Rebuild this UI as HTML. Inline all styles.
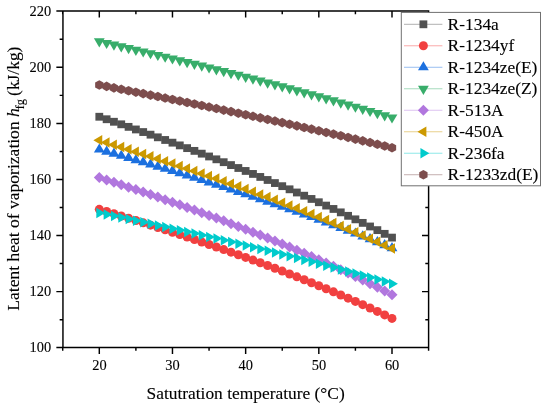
<!DOCTYPE html>
<html><head><meta charset="utf-8"><title>Latent heat of vaporization</title>
<style>
html,body{margin:0;padding:0;background:#fff;}
svg{display:block;font-family:"Liberation Serif","Times New Roman",serif;fill:#000;}
text{stroke:#000;stroke-width:0.12px;}
.tk{font-size:14.4px;}
.tt{font-size:17.4px;}
.ax{stroke:#000;stroke-width:1.45;fill:none;}
</style></head><body>
<svg width="550" height="409" viewBox="0 0 550 409">
<defs><filter id="soft" x="0" y="0" width="550" height="409" filterUnits="userSpaceOnUse"><feGaussianBlur stdDeviation="0.4"/></filter></defs>
<rect width="550" height="409" fill="#fff"/>
<g filter="url(#soft)">
<g fill="#515151">
<rect x="95.4" y="112.85" width="7.8" height="7.8"/>
<rect x="102.72" y="115.35" width="7.8" height="7.8"/>
<rect x="110.03" y="117.87" width="7.8" height="7.8"/>
<rect x="117.35" y="120.41" width="7.8" height="7.8"/>
<rect x="124.67" y="122.97" width="7.8" height="7.8"/>
<rect x="131.99" y="125.55" width="7.8" height="7.8"/>
<rect x="139.3" y="128.15" width="7.8" height="7.8"/>
<rect x="146.62" y="130.77" width="7.8" height="7.8"/>
<rect x="153.94" y="133.42" width="7.8" height="7.8"/>
<rect x="161.26" y="136.08" width="7.8" height="7.8"/>
<rect x="168.57" y="138.77" width="7.8" height="7.8"/>
<rect x="175.89" y="141.49" width="7.8" height="7.8"/>
<rect x="183.21" y="144.22" width="7.8" height="7.8"/>
<rect x="190.53" y="146.98" width="7.8" height="7.8"/>
<rect x="197.84" y="149.77" width="7.8" height="7.8"/>
<rect x="205.16" y="152.58" width="7.8" height="7.8"/>
<rect x="212.48" y="155.42" width="7.8" height="7.8"/>
<rect x="219.8" y="158.29" width="7.8" height="7.8"/>
<rect x="227.11" y="161.18" width="7.8" height="7.8"/>
<rect x="234.43" y="164.1" width="7.8" height="7.8"/>
<rect x="241.75" y="167.05" width="7.8" height="7.8"/>
<rect x="249.07" y="170.03" width="7.8" height="7.8"/>
<rect x="256.38" y="173.04" width="7.8" height="7.8"/>
<rect x="263.7" y="176.08" width="7.8" height="7.8"/>
<rect x="271.02" y="179.16" width="7.8" height="7.8"/>
<rect x="278.34" y="182.27" width="7.8" height="7.8"/>
<rect x="285.66" y="185.41" width="7.8" height="7.8"/>
<rect x="292.97" y="188.59" width="7.8" height="7.8"/>
<rect x="300.29" y="191.8" width="7.8" height="7.8"/>
<rect x="307.61" y="195.05" width="7.8" height="7.8"/>
<rect x="314.93" y="198.35" width="7.8" height="7.8"/>
<rect x="322.24" y="201.68" width="7.8" height="7.8"/>
<rect x="329.56" y="205.05" width="7.8" height="7.8"/>
<rect x="336.88" y="208.46" width="7.8" height="7.8"/>
<rect x="344.19" y="211.92" width="7.8" height="7.8"/>
<rect x="351.51" y="215.43" width="7.8" height="7.8"/>
<rect x="358.83" y="218.98" width="7.8" height="7.8"/>
<rect x="366.15" y="222.58" width="7.8" height="7.8"/>
<rect x="373.47" y="226.23" width="7.8" height="7.8"/>
<rect x="380.78" y="229.94" width="7.8" height="7.8"/>
<rect x="388.1" y="233.7" width="7.8" height="7.8"/>
</g>
<g fill="#F14040">
<circle cx="99.3" cy="209.35" r="4.5"/>
<circle cx="106.62" cy="211.55" r="4.5"/>
<circle cx="113.94" cy="213.76" r="4.5"/>
<circle cx="121.25" cy="215.99" r="4.5"/>
<circle cx="128.57" cy="218.24" r="4.5"/>
<circle cx="135.89" cy="220.52" r="4.5"/>
<circle cx="143.2" cy="222.81" r="4.5"/>
<circle cx="150.52" cy="225.13" r="4.5"/>
<circle cx="157.84" cy="227.46" r="4.5"/>
<circle cx="165.16" cy="229.82" r="4.5"/>
<circle cx="172.47" cy="232.2" r="4.5"/>
<circle cx="179.79" cy="234.61" r="4.5"/>
<circle cx="187.11" cy="237.03" r="4.5"/>
<circle cx="194.43" cy="239.49" r="4.5"/>
<circle cx="201.75" cy="241.96" r="4.5"/>
<circle cx="209.06" cy="244.47" r="4.5"/>
<circle cx="216.38" cy="247" r="4.5"/>
<circle cx="223.7" cy="249.56" r="4.5"/>
<circle cx="231.01" cy="252.14" r="4.5"/>
<circle cx="238.33" cy="254.76" r="4.5"/>
<circle cx="245.65" cy="257.4" r="4.5"/>
<circle cx="252.97" cy="260.08" r="4.5"/>
<circle cx="260.28" cy="262.78" r="4.5"/>
<circle cx="267.6" cy="265.52" r="4.5"/>
<circle cx="274.92" cy="268.29" r="4.5"/>
<circle cx="282.24" cy="271.1" r="4.5"/>
<circle cx="289.56" cy="273.95" r="4.5"/>
<circle cx="296.87" cy="276.83" r="4.5"/>
<circle cx="304.19" cy="279.75" r="4.5"/>
<circle cx="311.51" cy="282.71" r="4.5"/>
<circle cx="318.82" cy="285.71" r="4.5"/>
<circle cx="326.14" cy="288.75" r="4.5"/>
<circle cx="333.46" cy="291.84" r="4.5"/>
<circle cx="340.78" cy="294.98" r="4.5"/>
<circle cx="348.09" cy="298.16" r="4.5"/>
<circle cx="355.41" cy="301.4" r="4.5"/>
<circle cx="362.73" cy="304.68" r="4.5"/>
<circle cx="370.05" cy="308.02" r="4.5"/>
<circle cx="377.37" cy="311.42" r="4.5"/>
<circle cx="384.68" cy="314.88" r="4.5"/>
<circle cx="392" cy="318.4" r="4.5"/>
</g>
<g fill="#1A6FDF">
<polygon points="99.3,143.4 104.7,152.6 93.9,152.6"/>
<polygon points="106.62,145.47 112.02,154.67 101.22,154.67"/>
<polygon points="113.94,147.56 119.34,156.76 108.53,156.76"/>
<polygon points="121.25,149.67 126.65,158.87 115.85,158.87"/>
<polygon points="128.57,151.79 133.97,160.99 123.17,160.99"/>
<polygon points="135.89,153.93 141.29,163.13 130.49,163.13"/>
<polygon points="143.2,156.08 148.6,165.28 137.8,165.28"/>
<polygon points="150.52,158.25 155.92,167.45 145.12,167.45"/>
<polygon points="157.84,160.43 163.24,169.63 152.44,169.63"/>
<polygon points="165.16,162.63 170.56,171.83 159.76,171.83"/>
<polygon points="172.47,164.85 177.88,174.05 167.07,174.05"/>
<polygon points="179.79,167.09 185.19,176.29 174.39,176.29"/>
<polygon points="187.11,169.35 192.51,178.55 181.71,178.55"/>
<polygon points="194.43,171.62 199.83,180.82 189.03,180.82"/>
<polygon points="201.75,173.92 207.15,183.12 196.34,183.12"/>
<polygon points="209.06,176.23 214.46,185.43 203.66,185.43"/>
<polygon points="216.38,178.56 221.78,187.76 210.98,187.76"/>
<polygon points="223.7,180.91 229.1,190.11 218.3,190.11"/>
<polygon points="231.01,183.29 236.41,192.49 225.61,192.49"/>
<polygon points="238.33,185.68 243.73,194.88 232.93,194.88"/>
<polygon points="245.65,188.1 251.05,197.3 240.25,197.3"/>
<polygon points="252.97,190.54 258.37,199.74 247.57,199.74"/>
<polygon points="260.28,193 265.68,202.2 254.88,202.2"/>
<polygon points="267.6,195.49 273,204.69 262.2,204.69"/>
<polygon points="274.92,198 280.32,207.2 269.52,207.2"/>
<polygon points="282.24,200.53 287.64,209.73 276.84,209.73"/>
<polygon points="289.56,203.09 294.95,212.29 284.16,212.29"/>
<polygon points="296.87,205.67 302.27,214.87 291.47,214.87"/>
<polygon points="304.19,208.29 309.59,217.49 298.79,217.49"/>
<polygon points="311.51,210.92 316.91,220.12 306.11,220.12"/>
<polygon points="318.82,213.59 324.22,222.79 313.43,222.79"/>
<polygon points="326.14,216.29 331.54,225.49 320.74,225.49"/>
<polygon points="333.46,219.01 338.86,228.21 328.06,228.21"/>
<polygon points="340.78,221.77 346.18,230.97 335.38,230.97"/>
<polygon points="348.09,224.56 353.49,233.76 342.69,233.76"/>
<polygon points="355.41,227.38 360.81,236.58 350.01,236.58"/>
<polygon points="362.73,230.23 368.13,239.43 357.33,239.43"/>
<polygon points="370.05,233.12 375.45,242.32 364.65,242.32"/>
<polygon points="377.37,236.04 382.76,245.24 371.97,245.24"/>
<polygon points="384.68,239 390.08,248.2 379.28,248.2"/>
<polygon points="392,242 397.4,251.2 386.6,251.2"/>
</g>
<g fill="#37AD6B">
<polygon points="99.3,47.4 104.7,38.2 93.9,38.2"/>
<polygon points="106.62,49.08 112.02,39.88 101.22,39.88"/>
<polygon points="113.94,50.76 119.34,41.56 108.53,41.56"/>
<polygon points="121.25,52.46 126.65,43.26 115.85,43.26"/>
<polygon points="128.57,54.16 133.97,44.96 123.17,44.96"/>
<polygon points="135.89,55.88 141.29,46.68 130.49,46.68"/>
<polygon points="143.2,57.6 148.6,48.4 137.8,48.4"/>
<polygon points="150.52,59.34 155.92,50.14 145.12,50.14"/>
<polygon points="157.84,61.08 163.24,51.88 152.44,51.88"/>
<polygon points="165.16,62.84 170.56,53.64 159.76,53.64"/>
<polygon points="172.47,64.6 177.88,55.4 167.07,55.4"/>
<polygon points="179.79,66.38 185.19,57.18 174.39,57.18"/>
<polygon points="187.11,68.17 192.51,58.97 181.71,58.97"/>
<polygon points="194.43,69.97 199.83,60.77 189.03,60.77"/>
<polygon points="201.75,71.78 207.15,62.58 196.34,62.58"/>
<polygon points="209.06,73.6 214.46,64.4 203.66,64.4"/>
<polygon points="216.38,75.44 221.78,66.24 210.98,66.24"/>
<polygon points="223.7,77.29 229.1,68.09 218.3,68.09"/>
<polygon points="231.01,79.14 236.41,69.94 225.61,69.94"/>
<polygon points="238.33,81.02 243.73,71.82 232.93,71.82"/>
<polygon points="245.65,82.9 251.05,73.7 240.25,73.7"/>
<polygon points="252.97,84.8 258.37,75.6 247.57,75.6"/>
<polygon points="260.28,86.71 265.68,77.51 254.88,77.51"/>
<polygon points="267.6,88.63 273,79.43 262.2,79.43"/>
<polygon points="274.92,90.57 280.32,81.37 269.52,81.37"/>
<polygon points="282.24,92.52 287.64,83.32 276.84,83.32"/>
<polygon points="289.56,94.48 294.95,85.28 284.16,85.28"/>
<polygon points="296.87,96.46 302.27,87.26 291.47,87.26"/>
<polygon points="304.19,98.45 309.59,89.25 298.79,89.25"/>
<polygon points="311.51,100.46 316.91,91.26 306.11,91.26"/>
<polygon points="318.82,102.48 324.22,93.28 313.43,93.28"/>
<polygon points="326.14,104.52 331.54,95.32 320.74,95.32"/>
<polygon points="333.46,106.57 338.86,97.37 328.06,97.37"/>
<polygon points="340.78,108.64 346.18,99.44 335.38,99.44"/>
<polygon points="348.09,110.73 353.49,101.53 342.69,101.53"/>
<polygon points="355.41,112.83 360.81,103.63 350.01,103.63"/>
<polygon points="362.73,114.95 368.13,105.75 357.33,105.75"/>
<polygon points="370.05,117.08 375.45,107.88 364.65,107.88"/>
<polygon points="377.37,119.24 382.76,110.04 371.97,110.04"/>
<polygon points="384.68,121.41 390.08,112.21 379.28,112.21"/>
<polygon points="392,123.6 397.4,114.4 386.6,114.4"/>
</g>
<g fill="#B177DE">
<polygon points="99.3,172.1 104.8,177.6 99.3,183.1 93.8,177.6"/>
<polygon points="106.62,174.46 112.12,179.96 106.62,185.46 101.12,179.96"/>
<polygon points="113.94,176.85 119.44,182.35 113.94,187.85 108.44,182.35"/>
<polygon points="121.25,179.25 126.75,184.75 121.25,190.25 115.75,184.75"/>
<polygon points="128.57,181.68 134.07,187.18 128.57,192.68 123.07,187.18"/>
<polygon points="135.89,184.12 141.39,189.62 135.89,195.12 130.39,189.62"/>
<polygon points="143.2,186.59 148.7,192.09 143.2,197.59 137.7,192.09"/>
<polygon points="150.52,189.09 156.02,194.59 150.52,200.09 145.02,194.59"/>
<polygon points="157.84,191.6 163.34,197.1 157.84,202.6 152.34,197.1"/>
<polygon points="165.16,194.14 170.66,199.64 165.16,205.14 159.66,199.64"/>
<polygon points="172.47,196.7 177.97,202.2 172.47,207.7 166.97,202.2"/>
<polygon points="179.79,199.29 185.29,204.79 179.79,210.29 174.29,204.79"/>
<polygon points="187.11,201.9 192.61,207.4 187.11,212.9 181.61,207.4"/>
<polygon points="194.43,204.54 199.93,210.04 194.43,215.54 188.93,210.04"/>
<polygon points="201.75,207.2 207.25,212.7 201.75,218.2 196.25,212.7"/>
<polygon points="209.06,209.9 214.56,215.4 209.06,220.9 203.56,215.4"/>
<polygon points="216.38,212.62 221.88,218.12 216.38,223.62 210.88,218.12"/>
<polygon points="223.7,215.37 229.2,220.87 223.7,226.37 218.2,220.87"/>
<polygon points="231.01,218.15 236.51,223.65 231.01,229.15 225.51,223.65"/>
<polygon points="238.33,220.96 243.83,226.46 238.33,231.96 232.83,226.46"/>
<polygon points="245.65,223.8 251.15,229.3 245.65,234.8 240.15,229.3"/>
<polygon points="252.97,226.68 258.47,232.18 252.97,237.68 247.47,232.18"/>
<polygon points="260.28,229.58 265.78,235.08 260.28,240.58 254.78,235.08"/>
<polygon points="267.6,232.53 273.1,238.03 267.6,243.53 262.1,238.03"/>
<polygon points="274.92,235.51 280.42,241.01 274.92,246.51 269.42,241.01"/>
<polygon points="282.24,238.52 287.74,244.02 282.24,249.52 276.74,244.02"/>
<polygon points="289.56,241.58 295.06,247.08 289.56,252.58 284.06,247.08"/>
<polygon points="296.87,244.67 302.37,250.17 296.87,255.67 291.37,250.17"/>
<polygon points="304.19,247.81 309.69,253.31 304.19,258.81 298.69,253.31"/>
<polygon points="311.51,250.98 317.01,256.48 311.51,261.98 306.01,256.48"/>
<polygon points="318.82,254.21 324.32,259.71 318.82,265.21 313.32,259.71"/>
<polygon points="326.14,257.47 331.64,262.97 326.14,268.47 320.64,262.97"/>
<polygon points="333.46,260.79 338.96,266.29 333.46,271.79 327.96,266.29"/>
<polygon points="340.78,264.15 346.28,269.65 340.78,275.15 335.28,269.65"/>
<polygon points="348.09,267.56 353.59,273.06 348.09,278.56 342.59,273.06"/>
<polygon points="355.41,271.03 360.91,276.53 355.41,282.03 349.91,276.53"/>
<polygon points="362.73,274.55 368.23,280.05 362.73,285.55 357.23,280.05"/>
<polygon points="370.05,278.14 375.55,283.64 370.05,289.14 364.55,283.64"/>
<polygon points="377.37,281.78 382.87,287.28 377.37,292.78 371.87,287.28"/>
<polygon points="384.68,285.48 390.18,290.98 384.68,296.48 379.18,290.98"/>
<polygon points="392,289.25 397.5,294.75 392,300.25 386.5,294.75"/>
</g>
<g fill="#CC9900">
<polygon points="93.37,140.2 102.27,134.95 102.27,145.45"/>
<polygon points="100.68,142.46 109.58,137.21 109.58,147.71"/>
<polygon points="108,144.73 116.9,139.48 116.9,149.98"/>
<polygon points="115.32,147.02 124.22,141.77 124.22,152.27"/>
<polygon points="122.64,149.33 131.54,144.08 131.54,154.58"/>
<polygon points="129.95,151.66 138.85,146.41 138.85,156.91"/>
<polygon points="137.27,154 146.17,148.75 146.17,159.25"/>
<polygon points="144.59,156.37 153.49,151.12 153.49,161.62"/>
<polygon points="151.91,158.75 160.81,153.5 160.81,164"/>
<polygon points="159.22,161.15 168.12,155.9 168.12,166.4"/>
<polygon points="166.54,163.58 175.44,158.33 175.44,168.83"/>
<polygon points="173.86,166.02 182.76,160.77 182.76,171.27"/>
<polygon points="181.18,168.48 190.08,163.23 190.08,173.73"/>
<polygon points="188.49,170.97 197.39,165.72 197.39,176.22"/>
<polygon points="195.81,173.47 204.71,168.22 204.71,178.72"/>
<polygon points="203.13,176 212.03,170.75 212.03,181.25"/>
<polygon points="210.45,178.55 219.35,173.3 219.35,183.8"/>
<polygon points="217.76,181.13 226.66,175.88 226.66,186.38"/>
<polygon points="225.08,183.73 233.98,178.48 233.98,188.98"/>
<polygon points="232.4,186.35 241.3,181.1 241.3,191.6"/>
<polygon points="239.72,189 248.62,183.75 248.62,194.25"/>
<polygon points="247.03,191.67 255.93,186.42 255.93,196.92"/>
<polygon points="254.35,194.38 263.25,189.13 263.25,199.63"/>
<polygon points="261.67,197.1 270.57,191.85 270.57,202.35"/>
<polygon points="268.99,199.86 277.89,194.61 277.89,205.11"/>
<polygon points="276.3,202.64 285.2,197.39 285.2,207.89"/>
<polygon points="283.62,205.46 292.52,200.21 292.52,210.71"/>
<polygon points="290.94,208.3 299.84,203.05 299.84,213.55"/>
<polygon points="298.26,211.18 307.16,205.93 307.16,216.43"/>
<polygon points="305.57,214.09 314.47,208.84 314.47,219.34"/>
<polygon points="312.89,217.03 321.79,211.78 321.79,222.28"/>
<polygon points="320.21,220 329.11,214.75 329.11,225.25"/>
<polygon points="327.53,223.01 336.43,217.76 336.43,228.26"/>
<polygon points="334.84,226.06 343.74,220.81 343.74,231.31"/>
<polygon points="342.16,229.14 351.06,223.89 351.06,234.39"/>
<polygon points="349.48,232.26 358.38,227.01 358.38,237.51"/>
<polygon points="356.8,235.43 365.7,230.18 365.7,240.68"/>
<polygon points="364.11,238.63 373.01,233.38 373.01,243.88"/>
<polygon points="371.43,241.87 380.33,236.62 380.33,247.12"/>
<polygon points="378.75,245.16 387.65,239.91 387.65,250.41"/>
<polygon points="386.07,248.5 394.97,243.25 394.97,253.75"/>
</g>
<g fill="#00CBCC">
<polygon points="105.23,212.9 96.33,207.65 96.33,218.15"/>
<polygon points="112.55,214.43 103.65,209.18 103.65,219.68"/>
<polygon points="119.87,215.96 110.97,210.71 110.97,221.21"/>
<polygon points="127.19,217.51 118.29,212.26 118.29,222.76"/>
<polygon points="134.5,219.07 125.6,213.82 125.6,224.32"/>
<polygon points="141.82,220.64 132.92,215.39 132.92,225.89"/>
<polygon points="149.14,222.21 140.24,216.96 140.24,227.46"/>
<polygon points="156.46,223.8 147.56,218.55 147.56,229.05"/>
<polygon points="163.77,225.4 154.87,220.15 154.87,230.65"/>
<polygon points="171.09,227.01 162.19,221.76 162.19,232.26"/>
<polygon points="178.41,228.63 169.51,223.38 169.51,233.88"/>
<polygon points="185.73,230.26 176.83,225.01 176.83,235.51"/>
<polygon points="193.04,231.91 184.14,226.66 184.14,237.16"/>
<polygon points="200.36,233.56 191.46,228.31 191.46,238.81"/>
<polygon points="207.68,235.23 198.78,229.98 198.78,240.48"/>
<polygon points="215,236.91 206.1,231.66 206.1,242.16"/>
<polygon points="222.31,238.6 213.41,233.35 213.41,243.85"/>
<polygon points="229.63,240.31 220.73,235.06 220.73,245.56"/>
<polygon points="236.95,242.03 228.05,236.78 228.05,247.28"/>
<polygon points="244.27,243.76 235.37,238.51 235.37,249.01"/>
<polygon points="251.58,245.5 242.68,240.25 242.68,250.75"/>
<polygon points="258.9,247.26 250,242.01 250,252.51"/>
<polygon points="266.22,249.03 257.32,243.78 257.32,254.28"/>
<polygon points="273.54,250.82 264.64,245.57 264.64,256.07"/>
<polygon points="280.85,252.62 271.95,247.37 271.95,257.87"/>
<polygon points="288.17,254.43 279.27,249.18 279.27,259.68"/>
<polygon points="295.49,256.26 286.59,251.01 286.59,261.51"/>
<polygon points="302.81,258.11 293.91,252.86 293.91,263.36"/>
<polygon points="310.12,259.97 301.22,254.72 301.22,265.22"/>
<polygon points="317.44,261.85 308.54,256.6 308.54,267.1"/>
<polygon points="324.76,263.74 315.86,258.49 315.86,268.99"/>
<polygon points="332.08,265.66 323.18,260.41 323.18,270.91"/>
<polygon points="339.39,267.59 330.49,262.34 330.49,272.84"/>
<polygon points="346.71,269.53 337.81,264.28 337.81,274.78"/>
<polygon points="354.03,271.5 345.13,266.25 345.13,276.75"/>
<polygon points="361.35,273.48 352.45,268.23 352.45,278.73"/>
<polygon points="368.66,275.49 359.76,270.24 359.76,280.74"/>
<polygon points="375.98,277.51 367.08,272.26 367.08,282.76"/>
<polygon points="383.3,279.55 374.4,274.3 374.4,284.8"/>
<polygon points="390.62,281.62 381.72,276.37 381.72,286.87"/>
<polygon points="397.93,283.7 389.03,278.45 389.03,288.95"/>
</g>
<g fill="#7D4E4E">
<polygon points="99.3,80.2 103.46,82.6 103.46,87.4 99.3,89.8 95.14,87.4 95.14,82.6"/>
<polygon points="106.62,81.62 110.77,84.02 110.77,88.82 106.62,91.22 102.46,88.82 102.46,84.02"/>
<polygon points="113.94,83.05 118.09,85.45 118.09,90.25 113.94,92.65 109.78,90.25 109.78,85.45"/>
<polygon points="121.25,84.49 125.41,86.89 125.41,91.69 121.25,94.09 117.1,91.69 117.1,86.89"/>
<polygon points="128.57,85.93 132.73,88.33 132.73,93.13 128.57,95.53 124.41,93.13 124.41,88.33"/>
<polygon points="135.89,87.38 140.04,89.78 140.04,94.58 135.89,96.98 131.73,94.58 131.73,89.78"/>
<polygon points="143.2,88.83 147.36,91.23 147.36,96.03 143.2,98.43 139.05,96.03 139.05,91.23"/>
<polygon points="150.52,90.29 154.68,92.69 154.68,97.49 150.52,99.89 146.37,97.49 146.37,92.69"/>
<polygon points="157.84,91.76 162,94.16 162,98.96 157.84,101.36 153.68,98.96 153.68,94.16"/>
<polygon points="165.16,93.24 169.31,95.64 169.31,100.44 165.16,102.84 161,100.44 161,95.64"/>
<polygon points="172.47,94.72 176.63,97.12 176.63,101.92 172.47,104.32 168.32,101.92 168.32,97.12"/>
<polygon points="179.79,96.21 183.95,98.61 183.95,103.41 179.79,105.81 175.64,103.41 175.64,98.61"/>
<polygon points="187.11,97.71 191.27,100.11 191.27,104.91 187.11,107.31 182.95,104.91 182.95,100.11"/>
<polygon points="194.43,99.21 198.58,101.61 198.58,106.41 194.43,108.81 190.27,106.41 190.27,101.61"/>
<polygon points="201.75,100.72 205.9,103.12 205.9,107.92 201.75,110.32 197.59,107.92 197.59,103.12"/>
<polygon points="209.06,102.24 213.22,104.64 213.22,109.44 209.06,111.84 204.91,109.44 204.91,104.64"/>
<polygon points="216.38,103.77 220.54,106.17 220.54,110.97 216.38,113.37 212.22,110.97 212.22,106.17"/>
<polygon points="223.7,105.3 227.85,107.7 227.85,112.5 223.7,114.9 219.54,112.5 219.54,107.7"/>
<polygon points="231.01,106.84 235.17,109.24 235.17,114.04 231.01,116.44 226.86,114.04 226.86,109.24"/>
<polygon points="238.33,108.39 242.49,110.79 242.49,115.59 238.33,117.99 234.18,115.59 234.18,110.79"/>
<polygon points="245.65,109.95 249.81,112.35 249.81,117.15 245.65,119.55 241.49,117.15 241.49,112.35"/>
<polygon points="252.97,111.52 257.12,113.92 257.12,118.72 252.97,121.12 248.81,118.72 248.81,113.92"/>
<polygon points="260.28,113.09 264.44,115.49 264.44,120.29 260.28,122.69 256.13,120.29 256.13,115.49"/>
<polygon points="267.6,114.67 271.76,117.07 271.76,121.87 267.6,124.27 263.45,121.87 263.45,117.07"/>
<polygon points="274.92,116.26 279.08,118.66 279.08,123.46 274.92,125.86 270.76,123.46 270.76,118.66"/>
<polygon points="282.24,117.86 286.39,120.26 286.39,125.06 282.24,127.46 278.08,125.06 278.08,120.26"/>
<polygon points="289.56,119.47 293.71,121.87 293.71,126.67 289.56,129.07 285.4,126.67 285.4,121.87"/>
<polygon points="296.87,121.08 301.03,123.48 301.03,128.28 296.87,130.68 292.72,128.28 292.72,123.48"/>
<polygon points="304.19,122.71 308.35,125.11 308.35,129.91 304.19,132.31 300.03,129.91 300.03,125.11"/>
<polygon points="311.51,124.34 315.66,126.74 315.66,131.54 311.51,133.94 307.35,131.54 307.35,126.74"/>
<polygon points="318.82,125.99 322.98,128.39 322.98,133.19 318.82,135.59 314.67,133.19 314.67,128.39"/>
<polygon points="326.14,127.64 330.3,130.04 330.3,134.84 326.14,137.24 321.99,134.84 321.99,130.04"/>
<polygon points="333.46,129.3 337.62,131.7 337.62,136.5 333.46,138.9 329.3,136.5 329.3,131.7"/>
<polygon points="340.78,130.97 344.93,133.37 344.93,138.17 340.78,140.57 336.62,138.17 336.62,133.37"/>
<polygon points="348.09,132.65 352.25,135.05 352.25,139.85 348.09,142.25 343.94,139.85 343.94,135.05"/>
<polygon points="355.41,134.34 359.57,136.74 359.57,141.54 355.41,143.94 351.26,141.54 351.26,136.74"/>
<polygon points="362.73,136.04 366.89,138.44 366.89,143.24 362.73,145.64 358.57,143.24 358.57,138.44"/>
<polygon points="370.05,137.76 374.2,140.16 374.2,144.96 370.05,147.36 365.89,144.96 365.89,140.16"/>
<polygon points="377.37,139.48 381.52,141.88 381.52,146.68 377.37,149.08 373.21,146.68 373.21,141.88"/>
<polygon points="384.68,141.21 388.84,143.61 388.84,148.41 384.68,150.81 380.53,148.41 380.53,143.61"/>
<polygon points="392,142.95 396.16,145.35 396.16,150.15 392,152.55 387.84,150.15 387.84,145.35"/>
</g>
<path class="ax" d="M62.95,10.225V348.125M62.225,347.4H429.32500000000005M428.6,348.125V10.225M429.32500000000005,10.95H62.225M62.95,347.4h-6.6M428.6,347.4h-6.6M62.95,319.66h-3.3M428.6,319.66h-3.3M62.95,291.62h-6.6M428.6,291.62h-6.6M62.95,263.59h-3.3M428.6,263.59h-3.3M62.95,235.55h-6.6M428.6,235.55h-6.6M62.95,207.51h-3.3M428.6,207.51h-3.3M62.95,179.47h-6.6M428.6,179.47h-6.6M62.95,151.44h-3.3M428.6,151.44h-3.3M62.95,123.4h-6.6M428.6,123.4h-6.6M62.95,95.36h-3.3M428.6,95.36h-3.3M62.95,67.32h-6.6M428.6,67.32h-6.6M62.95,39.29h-3.3M428.6,39.29h-3.3M62.95,10.95h-6.6M428.6,10.95h-6.6M62.71,347.4v3.3M62.71,10.95v3.3M99.3,347.4v6.6M99.3,10.95v6.6M135.89,347.4v3.3M135.89,10.95v3.3M172.47,347.4v6.6M172.47,10.95v6.6M209.06,347.4v3.3M209.06,10.95v3.3M245.65,347.4v6.6M245.65,10.95v6.6M282.24,347.4v3.3M282.24,10.95v3.3M318.82,347.4v6.6M318.82,10.95v6.6M355.41,347.4v3.3M355.41,10.95v3.3M392,347.4v6.6M392,10.95v6.6M428.59,347.4v3.3M428.59,10.95v3.3"/>
<g class="tk" text-anchor="end">
<text x="51.2" y="352.1">100</text>
<text x="51.2" y="296.02">120</text>
<text x="51.2" y="239.95">140</text>
<text x="51.2" y="183.87">160</text>
<text x="51.2" y="127.8">180</text>
<text x="51.2" y="71.72">200</text>
<text x="51.2" y="15.65">220</text>
</g><g class="tk" text-anchor="middle">
<text x="99.4" y="370">20</text>
<text x="172.57" y="370">30</text>
<text x="245.75" y="370">40</text>
<text x="318.93" y="370">50</text>
<text x="392.1" y="370">60</text>
</g>
<text class="tt" text-anchor="middle" x="245.6" y="399.4">Satutration temperature (°C)</text>
<text class="tt" style="font-size:17.55px" xml:space="preserve" transform="translate(18.9,310.7) rotate(-90)">Latent heat of vaporization <tspan font-style="italic">h</tspan><tspan font-size="12.4px" dx="-1.1" dy="4.6">fg </tspan><tspan font-size="17.4px" dy="-4.6">(kJ/kg)</tspan></text>
<rect x="401.3" y="12.4" width="139.2" height="173.4" fill="#fff" stroke="#707070" stroke-width="1"/>
<g fill="#515151"><path d="M404,24.3H442.4" stroke="#515151" stroke-opacity="0.45" stroke-width="1" fill="none"/><rect x="419.5" y="20.4" width="7.8" height="7.8"/></g>
<text class="tt" x="447.6" y="30">R-134a</text>
<g fill="#F14040"><path d="M404,45.79H442.4" stroke="#F14040" stroke-opacity="0.45" stroke-width="1" fill="none"/><circle cx="423.4" cy="45.79" r="4.5"/></g>
<text class="tt" x="447.6" y="51.43">R-1234yf</text>
<g fill="#1A6FDF"><path d="M404,67.28H442.4" stroke="#1A6FDF" stroke-opacity="0.45" stroke-width="1" fill="none"/><polygon points="423.4,61.15 428.8,70.35 418,70.35"/></g>
<text class="tt" x="447.6" y="72.86">R-1234ze(E)</text>
<g fill="#37AD6B"><path d="M404,88.77H442.4" stroke="#37AD6B" stroke-opacity="0.45" stroke-width="1" fill="none"/><polygon points="423.4,94.9 428.8,85.7 418,85.7"/></g>
<text class="tt" x="447.6" y="94.29">R-1234ze(Z)</text>
<g fill="#B177DE"><path d="M404,110.26H442.4" stroke="#B177DE" stroke-opacity="0.45" stroke-width="1" fill="none"/><polygon points="423.4,104.76 428.9,110.26 423.4,115.76 417.9,110.26"/></g>
<text class="tt" x="447.6" y="115.72">R-513A</text>
<g fill="#CC9900"><path d="M404,131.75H442.4" stroke="#CC9900" stroke-opacity="0.45" stroke-width="1" fill="none"/><polygon points="417.47,131.75 426.37,126.5 426.37,137"/></g>
<text class="tt" x="447.6" y="137.15">R-450A</text>
<g fill="#00CBCC"><path d="M404,153.24H442.4" stroke="#00CBCC" stroke-opacity="0.45" stroke-width="1" fill="none"/><polygon points="429.33,153.24 420.43,147.99 420.43,158.49"/></g>
<text class="tt" x="447.6" y="158.58">R-236fa</text>
<g fill="#7D4E4E"><path d="M404,174.73H442.4" stroke="#7D4E4E" stroke-opacity="0.45" stroke-width="1" fill="none"/><polygon points="423.4,169.93 427.56,172.33 427.56,177.13 423.4,179.53 419.24,177.13 419.24,172.33"/></g>
<text class="tt" x="447.6" y="180.01">R-1233zd(E)</text>
</g></svg></body></html>
